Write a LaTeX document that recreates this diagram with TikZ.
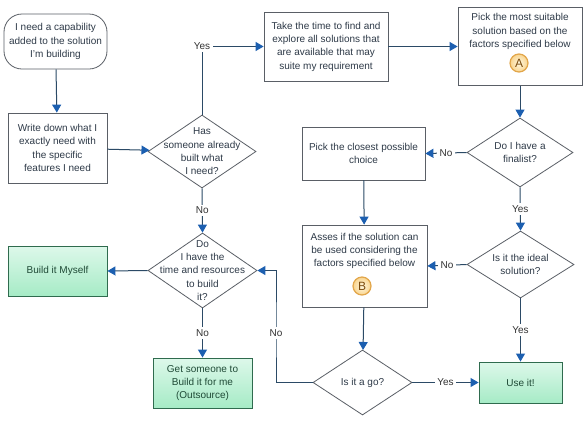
\documentclass[tikz,border=0pt]{standalone}
\usepackage{fontspec}
\setmainfont{Liberation Sans}
\usetikzlibrary{shapes.geometric,arrows.meta}
\definecolor{linec}{HTML}{2B4A66}
\definecolor{tipc}{HTML}{1C5FB0}
\definecolor{boxc}{HTML}{5A5F66}
\definecolor{txtc}{HTML}{2E3A48}
\definecolor{gfillt}{HTML}{DDF8EA}
\definecolor{gfillb}{HTML}{A6EBC6}
\definecolor{gdraw}{HTML}{2F6B4E}
\definecolor{gtxt}{HTML}{1F4A36}
\definecolor{cin}{HTML}{FFF8E0}
\definecolor{cout}{HTML}{F9D48E}
\definecolor{cdraw}{HTML}{E2A64A}
\definecolor{ctxt}{HTML}{7A4A0C}
\begin{document}
\begin{tikzpicture}[x=1pt,y=-1pt,
  every node/.style={font=\fontsize{10}{13.3}\selectfont, text=txtc},
  proc/.style={draw=boxc, line width=0.8pt, fill=white, align=center, inner sep=2pt},
  startbox/.style={proc, rounded corners=18pt},
  dec/.style={diamond, draw=boxc, line width=0.8pt, fill=white, inner sep=0pt},
  dectext/.style={align=center},
  endbox/.style={draw=gdraw, line width=0.9pt, top color=gfillt, bottom color=gfillb, align=center, text=gtxt},
  badge/.style={circle, draw=cdraw, line width=1.2pt, shading=radial, inner color=cin, outer color=cout, minimum size=18pt, inner sep=0pt, text=ctxt, font=\fontsize{12}{13}\selectfont},
  conn/.style={draw=linec, line width=1pt, -{Triangle[length=8pt,width=9pt,color=tipc]}},
  lbl/.style={fill=white, inner sep=2.5pt, text=black!80}
]
\useasboundingbox (0,0) rectangle (585,421);
\fill[white] (0,0) rectangle (585,421);

% nodes
\node[startbox, minimum width=103pt, minimum height=55pt] (start) at (55.5,41.5)
  {I need a capability\\added to the solution\\I'm building};
\node[proc, minimum width=99pt, minimum height=70pt] (write) at (57.5,148)
  {Write down what I\\exactly need with\\the specific\\features I need};
\node[dec, minimum width=108pt, minimum height=73pt,
  label={[dectext]center:{Has\\someone already\\built what\\I need?}}] (has) at (202,151.5) {};
\node[proc, minimum width=124pt, minimum height=69pt] (take) at (326,46.5)
  {Take the time to find and\\explore all solutions that\\are available that may\\suite my requirement};
\node[proc, minimum width=124pt, minimum height=78pt,
  label={[align=center, anchor=north, yshift=-3pt]north:{Pick the most suitable\\solution based on the\\factors specified below}}] (pick) at (520,46.5) {};
\node[badge] (ba) at (519,63) {A};
\node[dec, minimum width=106pt, minimum height=69pt,
  label={[dectext]center:{Do I have a\\finalist?}}] (fin) at (520,152.5) {};
\node[proc, minimum width=123pt, minimum height=53pt] (closest) at (363.5,153.5)
  {Pick the closest possible\\choice};
\node[proc, minimum width=125pt, minimum height=82pt,
  label={[align=center, anchor=north, yshift=-5pt]north:{Asses if the solution can\\be used considering the\\factors specified below}}] (asses) at (364.5,266) {};
\node[badge] (bb) at (362,286) {B};
\node[dec, minimum width=107pt, minimum height=67pt,
  label={[dectext]center:{Is it the ideal\\solution?}}] (ideal) at (520.5,264.5) {};
\node[dec, minimum width=99pt, minimum height=65pt,
  label={[dectext]center:{Is it a go?}}] (go) at (362.5,382.5) {};
\node[endbox, minimum width=83pt, minimum height=41pt] (use) at (520.5,382.5) {Use it!};
\node[dec, minimum width=109pt, minimum height=75pt,
  label={[dectext]center:{Do\\I have the\\time and resources\\to build\\it?}}] (time) at (202.5,270.5) {};
\node[endbox, minimum width=99pt, minimum height=50pt] (myself) at (57.5,271) {Build it Myself};
\node[endbox, minimum width=99pt, minimum height=50pt] (outs) at (202.5,383)
  {Get someone to\\Build it for me\\(Outsource)};
\coordinate (loopc) at (276,333);

% connectors
\draw[conn] (start) -- (write);
\draw[conn] (write) -- (has);
\draw[conn] (has.north) |- node[lbl, pos=0.5]{Yes} (take.west);
\draw[conn] (take) -- (pick);
\draw[conn] (pick) -- (fin);
\draw[conn] (fin.west) -- node[lbl]{No} (closest.east);
\draw[conn] (fin.south) -- node[lbl]{Yes} (ideal.north);
\draw[conn] (closest) -- (asses);
\draw[conn] (ideal.west) -- node[lbl]{No} (asses.east);
\draw[conn] (ideal.south) -- node[lbl]{Yes} (use.north);
\draw[conn] (asses) -- (go);
\draw[conn] (go.east) -- node[lbl]{Yes} (use.west);
\draw[conn] (go.west) -| (loopc) node[lbl]{No} |- (time.east);
\draw[conn] (has.south) -- node[lbl]{No} (time.north);
\draw[conn] (time.west) -- (myself.east);
\draw[conn] (time.south) -- node[lbl]{No} (outs.north);
\end{tikzpicture}
\end{document}
